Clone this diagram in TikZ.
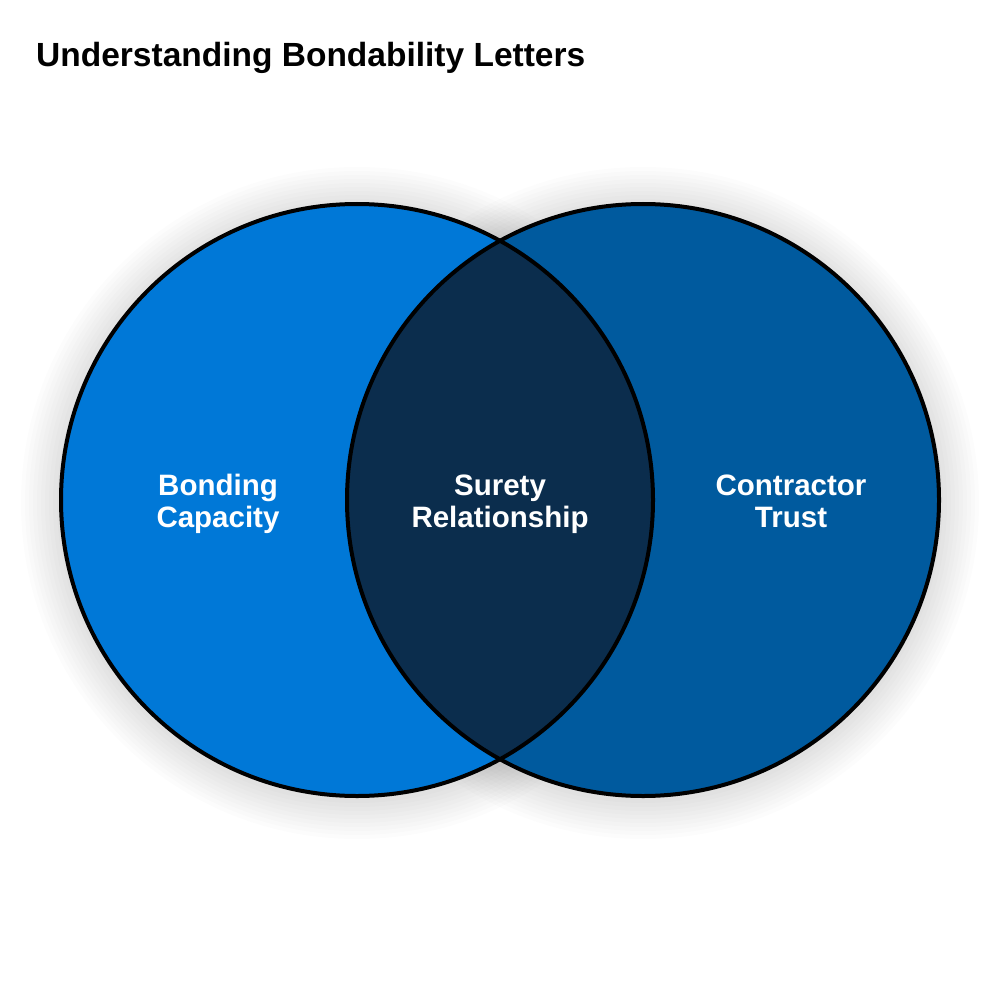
\documentclass[tikz,border=0pt]{standalone}
\usepackage{fontspec}
\setmainfont{Liberation Sans}
\definecolor{leftblue}{RGB}{0,120,215}
\definecolor{rightblue}{RGB}{0,90,158}
\definecolor{midblue}{RGB}{11,45,77}
\begin{document}
\begin{tikzpicture}[x=1pt,y=-1pt,
  ring/.style={draw=black,line width=4pt},
  lbl/.style={text=white,font=\bfseries\fontsize{29.5}{32}\selectfont,anchor=base,inner sep=0pt},
  ttl/.style={text=black,font=\bfseries\fontsize{33.5}{36}\selectfont,anchor=base west,inner sep=0pt}]
\useasboundingbox[fill=white] (0,0) rectangle (1000,1000);
% soft shadow
\foreach \r in {300,304,...,336}{
  \fill[black,opacity=0.01] (357,503) circle (\r);
  \fill[black,opacity=0.01] (643,503) circle (\r);
}
\fill[leftblue] (357,500) circle (296);
\fill[rightblue] (643,500) circle (296);
\begin{scope}
  \clip (357,500) circle (296);
  \fill[midblue] (643,500) circle (296);
\end{scope}
\draw[ring] (357,500) circle (296);
\draw[ring] (643,500) circle (296);
\node[ttl] (title) at (36,67) {Understanding Bondability Letters};
\node[lbl] (bonding1) at (218,495) {Bonding};
\node[lbl] (bonding2) at (218,527) {Capacity};
\node[lbl] (surety1) at (500,495) {Surety};
\node[lbl] (surety2) at (500,527) {Relationship};
\node[lbl] (contractor1) at (791,495) {Contractor};
\node[lbl] (contractor2) at (791,527) {Trust};
\end{tikzpicture}
\end{document}
